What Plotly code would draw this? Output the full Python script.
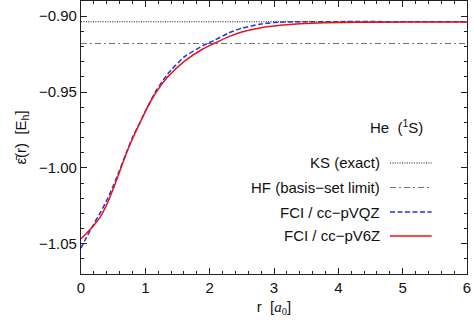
import plotly.graph_objects as go

# ---- data ----
r_v6z = [0.00, 0.10, 0.20, 0.30, 0.40, 0.50, 0.60, 0.70, 0.80, 0.92, 1.035, 1.17, 1.35,
         1.60, 1.90, 2.07, 2.30, 2.50, 2.80, 3.10, 3.40, 3.80, 4.30, 5.00, 6.00]
e_v6z = [-1.0468, -1.0425, -1.0378, -1.0323, -1.0243, -1.0140, -1.0025, -0.9910,
         -0.9808, -0.9700, -0.9600, -0.9500, -0.9400, -0.9300, -0.9215, -0.9180,
         -0.9135, -0.9105, -0.9076, -0.9060, -0.9050, -0.9043, -0.9040, -0.9039, -0.9038]

r_vqz = [0.00, 0.08, 0.16, 0.30, 0.40, 0.50, 0.60, 0.70, 0.80, 0.92, 1.035, 1.17,
         1.35, 1.60, 1.90, 2.07, 2.30, 2.50, 2.80, 3.00, 3.30, 4.00, 5.00, 6.00]
e_vqz = [-1.0530, -1.0462, -1.0400, -1.0295, -1.0215, -1.0120, -1.0015, -0.9905,
         -0.9800, -0.9698, -0.9597, -0.9490, -0.9380, -0.9270, -0.9193, -0.9160,
         -0.9110, -0.9079, -0.9052, -0.9042, -0.9037, -0.9036, -0.9036, -0.9036]

r_span = [0, 6]
ks_level = -0.9037
hf_level = -0.9180

legend_labels = ["KS (exact)", "HF (basis\u2212set limit)", "FCI / cc\u2212pVQZ", "FCI / cc\u2212pV6Z"]

x_ticks = [0, 1, 2, 3, 4, 5, 6]
y_ticks = [-1.05, -1.00, -0.95, -0.90]

# ---- styles ----
styles = [
    dict(color="#111111", width=1, dash="1px,1.4px"),
    dict(color="rgb(100,122,110)", width=1, dash="6px,3px,2px,3px"),
    dict(color="#2233dd", width=1.5, dash="5px,2.5px"),
    dict(color="#e8141c", width=1.5),
]

fig = go.Figure()
fig.add_trace(go.Scatter(x=r_span, y=[ks_level, ks_level], mode="lines", line=styles[0]))
fig.add_trace(go.Scatter(x=r_span, y=[hf_level, hf_level], mode="lines", line=styles[1]))
fig.add_trace(go.Scatter(x=r_vqz, y=e_vqz, mode="lines", line=dict(shape="spline", smoothing=0.6, **styles[2])))
fig.add_trace(go.Scatter(x=r_v6z, y=e_v6z, mode="lines", line=dict(shape="spline", smoothing=0.6, **styles[3])))

font = dict(family="Liberation Sans, Arial, sans-serif", size=15, color="#111111")

# manual legend (text right, sample line at right)
row_y = [0.4066, 0.3168, 0.2271, 0.1392]
for lbl, yy, st in zip(legend_labels, row_y, styles):
    fig.add_annotation(x=0.780, y=yy, xref="paper", yref="paper", text=lbl,
                       showarrow=False, xanchor="right", yanchor="middle", font=font)
    fig.add_shape(type="line", xref="paper", yref="paper", x0=0.8005, x1=0.9085,
                  y0=yy, y1=yy, line=st)

fig.add_annotation(x=0.891, y=0.5385, xref="paper", yref="paper",
                   text="He  (<sup>1</sup>S)", showarrow=False, xanchor="right",
                   yanchor="middle", font=font)

axis_common = dict(showline=True, linecolor="#222222", linewidth=1.2, mirror="allticks",
                   ticks="inside", ticklen=6, tickcolor="#222222", tickwidth=1,
                   showgrid=False, zeroline=False, tickfont=font)

fig.update_xaxes(range=[0, 6], tickvals=x_ticks,
                 minor=dict(dtick=0.2, ticks="inside", ticklen=3, tickcolor="#222222", showgrid=False),
                 title=dict(text="r  [<span style='font-family:Liberation Serif'><i>a</i><sub>0</sub></span>]",
                            font=font, standoff=6),
                 **axis_common)
fig.update_yaxes(range=[-1.07, -0.89], tickvals=y_ticks, tickformat=".2f",
                 minor=dict(dtick=0.01, ticks="inside", ticklen=3, tickcolor="#222222", showgrid=False),
                 title=dict(text="\u03b5\u0304(r)  [E<sub>h</sub>]", font=font, standoff=8),
                 **axis_common)

fig.update_layout(width=474, height=323, margin=dict(l=81, r=7, t=1, b=49),
                  plot_bgcolor="white", paper_bgcolor="white", showlegend=False,
                  font=font)

fig.write_html("out.html")
